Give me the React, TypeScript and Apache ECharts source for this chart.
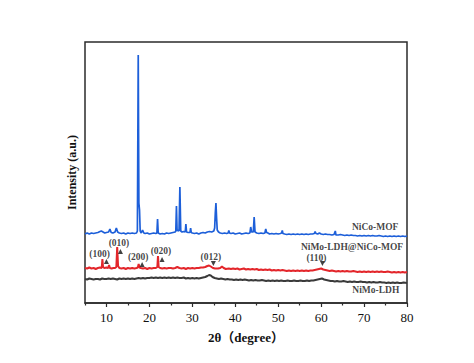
import React, { useEffect, useRef } from "react";
import * as echarts from "echarts";

// 2θ (degree) vs intensity (a.u., arbitrary offset units)
const nicoMOF: [number, number][] = [
  [5,69],[5.5,70],[6,69],[6.5,70],[7,69.5],[7.5,70],[8,70.5],[8.5,71.5],[8.8,72],[9.2,71],[9.6,70],[10,70.5],[10.5,71],[10.8,74],[11.1,70.5],[11.5,70],[12,71],[12.3,75],[12.6,71],[13,70],[13.5,69.5],[14,70],[14.5,69],[15,70],[15.5,69.5],[16,70],[16.5,69.5],[17,70],[17.2,72],[17.4,248],[17.55,100],[17.7,93],[17.85,72],[18.1,70],[18.4,73],[18.7,70],[19,69.5],[19.5,70],[20,69],[20.5,69.5],[21,70],[21.5,69.5],[21.75,70],[21.9,84],[22.05,70],[22.5,69],[23,69.5],[23.5,69],[24,70],[24.5,69.5],[25,70],[25.5,70.5],[26,71],[26.15,72],[26.3,97],[26.45,72],[26.6,73],[26.9,72],[27.1,116],[27.3,72],[27.6,71],[28,71.5],[28.35,71],[28.5,79],[28.65,71],[29,70.5],[29.45,70.5],[29.6,75],[29.75,70.5],[30,70],[30.5,69.5],[31,70],[31.5,69],[32,70],[32.5,70.5],[33,70],[33.5,71],[34,71.5],[34.5,71],[35,72],[35.2,75],[35.35,90],[35.5,100],[35.65,85],[35.8,73],[36.1,71],[36.5,70],[37,69.5],[37.5,70],[38,69.5],[38.35,70],[38.5,72.5],[38.65,70],[39,69.5],[39.5,70],[40,69],[40.5,69.5],[41,70],[41.5,69],[42,69.5],[42.5,70],[43,69.5],[43.4,70],[43.6,76],[43.8,71],[44.2,71],[44.4,86],[44.6,71],[45,70],[45.5,69.5],[46,70],[46.5,69.5],[46.9,70],[47.1,74],[47.3,70.5],[47.6,70],[48,69],[48.5,69.5],[49,69],[49.5,69.5],[50,69],[50.5,69.5],[50.8,70],[50.95,72.5],[51.1,69.5],[51.5,69],[52,68.5],[52.5,69],[53,68.5],[53.5,69],[54,68.5],[54.5,69],[55,68.5],[55.5,69],[56,68.5],[56.5,69],[57,68.5],[57.5,69],[58,69],[58.4,69.5],[58.6,71.5],[58.8,69.5],[59.2,69],[59.6,70],[60,69],[60.5,68.5],[61,69],[61.5,68.5],[62,68.5],[62.5,68],[63,68.5],[63.15,68.5],[63.3,72],[63.45,68],[64,68],[64.5,68.5],[65,68],[65.5,67.5],[66,68],[66.5,67.5],[67,68],[67.5,67.5],[68,67.5],[68.5,67],[69,67.5],[69.5,67],[70,67.5],[70.5,67],[71,67.5],[71.5,67],[72,67.5],[72.5,67],[73,67],[73.5,67.5],[74,67],[74.5,66.5],[75,67],[75.5,66.5],[76,67],[76.5,66.5],[77,67],[77.5,66.5],[78,67],[78.5,66.5],[79,67],[79.5,66.5],[80,67]
];

const nimoLDHatMOF: [number, number][] = [
  [5,35],[5.5,34.5],[6,35.5],[6.5,34.5],[7,35],[7.5,34],[8,35],[8.5,35.5],[8.9,35],[9.05,44],[9.2,36],[9.5,35],[10,35.5],[10.4,35],[10.6,38],[10.8,35],[11.2,34.5],[11.6,35],[12,35],[12.3,36],[12.5,56],[12.7,37],[13,35],[13.5,34.5],[14,35],[14.5,34],[15,35],[15.5,34.5],[16,35],[16.5,34.5],[17,35],[17.3,35.5],[17.5,39],[17.7,35.5],[18,35],[18.5,34.5],[19,35],[19.5,34],[20,35],[20.5,34.5],[21,35],[21.5,35],[21.85,36],[22,47],[22.15,36],[22.5,35],[23,34.5],[23.5,35],[24,34.5],[24.5,35],[25,35],[25.5,34.5],[26,35],[26.5,36],[27,35],[27.5,34.5],[28,35],[28.5,34],[29,35],[29.5,34.5],[30,35],[30.5,34.5],[31,35],[31.5,35],[32,35.5],[32.5,35.5],[33,36],[33.5,37],[33.9,37.5],[34.3,36.5],[34.8,35],[35.3,34.5],[36,34.5],[36.5,35],[36.9,36.5],[37.3,35],[37.8,34],[38.5,34.5],[39,34],[39.5,34.5],[40,34],[40.5,34.5],[41,33.5],[41.5,34],[42,34.5],[42.5,33.5],[43,34],[43.5,33.5],[44,34],[44.5,33.5],[45,34],[45.5,33],[46,33.5],[46.5,33],[47,33.5],[47.5,33],[48,33.5],[48.5,32.5],[49,33],[49.5,32.5],[50,33],[50.5,32.5],[51,33],[51.5,32.5],[52,32],[52.5,32.5],[53,32],[53.5,32.5],[54,32],[54.5,32.5],[55,32],[55.5,32.5],[56,32],[56.5,32.5],[57,32],[57.5,32.5],[58,32.5],[58.5,33],[59,33.5],[59.5,34],[60,34.5],[60.5,33.5],[61,33],[61.5,32.5],[62,32],[62.5,32.5],[63,32],[63.5,31.5],[64,32],[64.5,31.5],[65,32],[65.5,31.5],[66,32],[66.5,31.5],[67,31.5],[67.5,32],[68,31.5],[68.5,31],[69,31.5],[69.5,31],[70,31.5],[70.5,31],[71,31.5],[71.5,31],[72,31.5],[72.5,31],[73,31.5],[73.5,31],[74,31.5],[74.5,31],[75,31],[75.5,31.5],[76,31],[76.5,30.5],[77,31],[77.5,30.5],[78,31],[78.5,30.5],[79,31],[79.5,30.5],[80,31]
];

const nimoLDH: [number, number][] = [
  [5,24],[5.5,23.5],[6,24.5],[6.5,24],[7,23.5],[7.5,24],[8,24],[8.5,23.5],[9,24.5],[9.5,24],[10,24],[10.5,24.5],[11,24],[11.5,24.5],[12,24],[12.5,23.5],[13,24.5],[13.5,24],[14,24.5],[14.5,24],[15,24.5],[15.5,24],[16,24.5],[16.5,24],[17,24.5],[17.5,25],[18,24.5],[18.5,25],[19,24.5],[19.5,25],[20,25],[20.5,25.5],[21,25],[21.5,25.5],[22,25],[22.5,25.5],[23,25],[23.5,25.5],[24,25],[24.5,25.5],[25,25],[25.5,25.5],[26,25],[26.5,25.5],[27,25],[27.5,25],[28,25.5],[28.5,24.5],[29,25],[29.5,24.5],[30,25],[30.5,24.5],[31,25],[31.5,24.5],[32,25],[32.5,25.5],[33,26],[33.5,27],[33.9,28],[34.3,27.5],[34.7,26],[35.2,25],[35.7,24.5],[36.2,24],[36.7,24.5],[37.2,24],[37.7,23.5],[38.2,24],[38.7,23.5],[39.2,23.5],[39.7,23],[40.2,23.5],[40.7,23],[41.2,23.5],[41.7,23],[42.2,23.5],[42.7,23],[43.2,22.5],[43.7,23],[44.2,22.5],[44.7,23],[45.2,22.5],[45.7,22.5],[46.2,23],[46.7,22.5],[47.2,22],[47.7,22.5],[48.2,22],[48.7,22.5],[49.2,22],[49.7,22.5],[50.2,22],[50.7,22.5],[51.2,22],[51.7,22],[52.2,22.5],[52.7,22],[53.2,22],[53.7,22.5],[54.2,22],[54.7,22],[55.2,22.5],[55.7,22],[56.2,22],[56.7,22.5],[57.2,22],[57.7,22.5],[58.2,22.5],[58.7,23],[59.2,23.5],[59.7,24],[60.2,24.5],[60.7,23.5],[61.2,23],[61.7,22.5],[62.2,22],[62.7,22],[63.2,21.5],[63.7,22],[64.2,21.5],[64.7,21.5],[65.2,22],[65.7,21.5],[66.2,21],[66.7,21.5],[67.2,21],[67.7,21.5],[68.2,21],[68.7,21],[69.2,21.5],[69.7,21],[70.2,21],[70.7,20.5],[71.2,21],[71.7,20.5],[72.2,21],[72.7,20.5],[73.2,20.5],[73.7,21],[74.2,20.5],[74.7,20.5],[75.2,20],[75.7,20.5],[76.2,20],[76.7,20.5],[77.2,20],[77.7,20.5],[78.2,20],[78.7,20],[79.2,20.5],[80,20]
];

// Miller-index annotations
const peakLabels = ["(100)", "(010)", "(200)", "(020)", "(012)", "(110)"];
const peakLabelX = [8.4, 12.9, 17.4, 22.7, 34.3, 58.9];
const peakLabelY = [49.5, 60.5, 46.5, 52.5, 46.5, 45];
const markerX = [10.0, 13.25, 18.3, 22.95, 34.9, 60.3];
const markerY = [41.5, 51.5, 38.5, 43.5, 39.5, 39.5];
const markerDown = [false, false, false, false, true, true];

// sample names (right-aligned anchors)
const sampleNames = ["NiCo-MOF", "NiMo-LDH@NiCo-MOF", "NiMo-LDH"];
const sampleX = [78.0, 79.1, 78.2];
const sampleY = [76, 56, 13];

const xMajorTicks = [10, 20, 30, 40, 50, 60, 70, 80];
const xMinorTicks = [5, 15, 25, 35, 45, 55, 65, 75];

const SERIF = "'Liberation Serif', 'Times New Roman', 'Noto Sans CJK SC', serif";

export default function App() {
  const ref = useRef<HTMLDivElement>(null);
  useEffect(() => {
    if (!ref.current) return;
    const chart = echarts.init(ref.current, undefined, { renderer: "svg" });
    chart.setOption({
      animation: false,
      backgroundColor: "#ffffff",
      grid: {
        left: 85,
        top: 42,
        right: 67,
        bottom: 60,
        show: true,
        borderColor: "#2b2b2b",
        borderWidth: 1.5,
        backgroundColor: "transparent",
      },
      xAxis: [
        {
          type: "value",
          min: 5,
          max: 80,
          axisLine: { show: true, lineStyle: { color: "#2b2b2b", width: 1.5 } },
          axisTick: { show: true, inside: false, length: 4, customValues: xMajorTicks, lineStyle: { color: "#2b2b2b", width: 1.2 } },
          axisLabel: { show: true, customValues: xMajorTicks, color: "#111", fontFamily: SERIF, fontSize: 13, margin: 8 },
          splitLine: { show: false },
          name: "2θ（degree）",
          nameLocation: "middle",
          nameGap: 28,
          nameTextStyle: { fontFamily: SERIF, fontWeight: "bold", fontSize: 13, color: "#111" },
        },
        {
          type: "value",
          min: 5,
          max: 80,
          position: "bottom",
          axisLine: { show: false },
          axisTick: { show: true, inside: false, length: 2.5, customValues: xMinorTicks, lineStyle: { color: "#2b2b2b", width: 1.2 } },
          axisLabel: { show: false },
          splitLine: { show: false },
        },
      ],
      yAxis: {
        type: "value",
        min: 0,
        max: 261,
        axisLine: { show: false },
        axisTick: { show: false },
        axisLabel: { show: false },
        splitLine: { show: false },
        name: "Intensity (a.u.)",
        nameLocation: "middle",
        nameGap: 7,
        nameRotate: 90,
        nameTextStyle: { fontFamily: SERIF, fontWeight: "bold", fontSize: 12, color: "#111" },
      },
      series: [
        {
          type: "line",
          data: nimoLDH,
          showSymbol: false,
          lineStyle: { color: "#3a3a3a", width: 2 },
          z: 2,
        },
        {
          type: "line",
          data: nimoLDHatMOF,
          showSymbol: false,
          lineStyle: { color: "#e3262b", width: 2 },
          z: 3,
        },
        {
          type: "line",
          data: nicoMOF,
          showSymbol: false,
          lineStyle: { color: "#1d5fd9", width: 1.7 },
          z: 4,
        },
        {
          type: "scatter",
          symbol: "triangle",
          symbolSize: [5, 5],
          itemStyle: { color: "#111" },
          data: markerX.map((x, i) => ({ value: [x, markerY[i]], symbolRotate: markerDown[i] ? 180 : 0 })),
          z: 5,
        },
        {
          type: "scatter",
          symbolSize: 0,
          data: peakLabelX.map((x, i) => ({ value: [x, peakLabelY[i]], name: peakLabels[i] })),
          label: {
            show: true,
            position: [0, 0],
            align: "center",
            verticalAlign: "middle",
            formatter: (p: any) => p.name,
            fontFamily: SERIF,
            fontWeight: "bold",
            fontSize: 9.5,
            color: "#111",
          },
          z: 6,
        },
        {
          type: "scatter",
          symbolSize: 0,
          data: sampleX.map((x, i) => ({ value: [x, sampleY[i]], name: sampleNames[i] })),
          label: {
            show: true,
            position: [0, 0],
            align: "right",
            verticalAlign: "middle",
            formatter: (p: any) => p.name,
            fontFamily: SERIF,
            fontWeight: "bold",
            fontSize: 9.5,
            color: "#111",
          },
          z: 6,
        },
      ],
    });
    return () => chart.dispose();
  }, []);
  return <div ref={ref} style={{ width: 474, height: 363, position: "absolute", left: 0, top: 0 }} />;
}
